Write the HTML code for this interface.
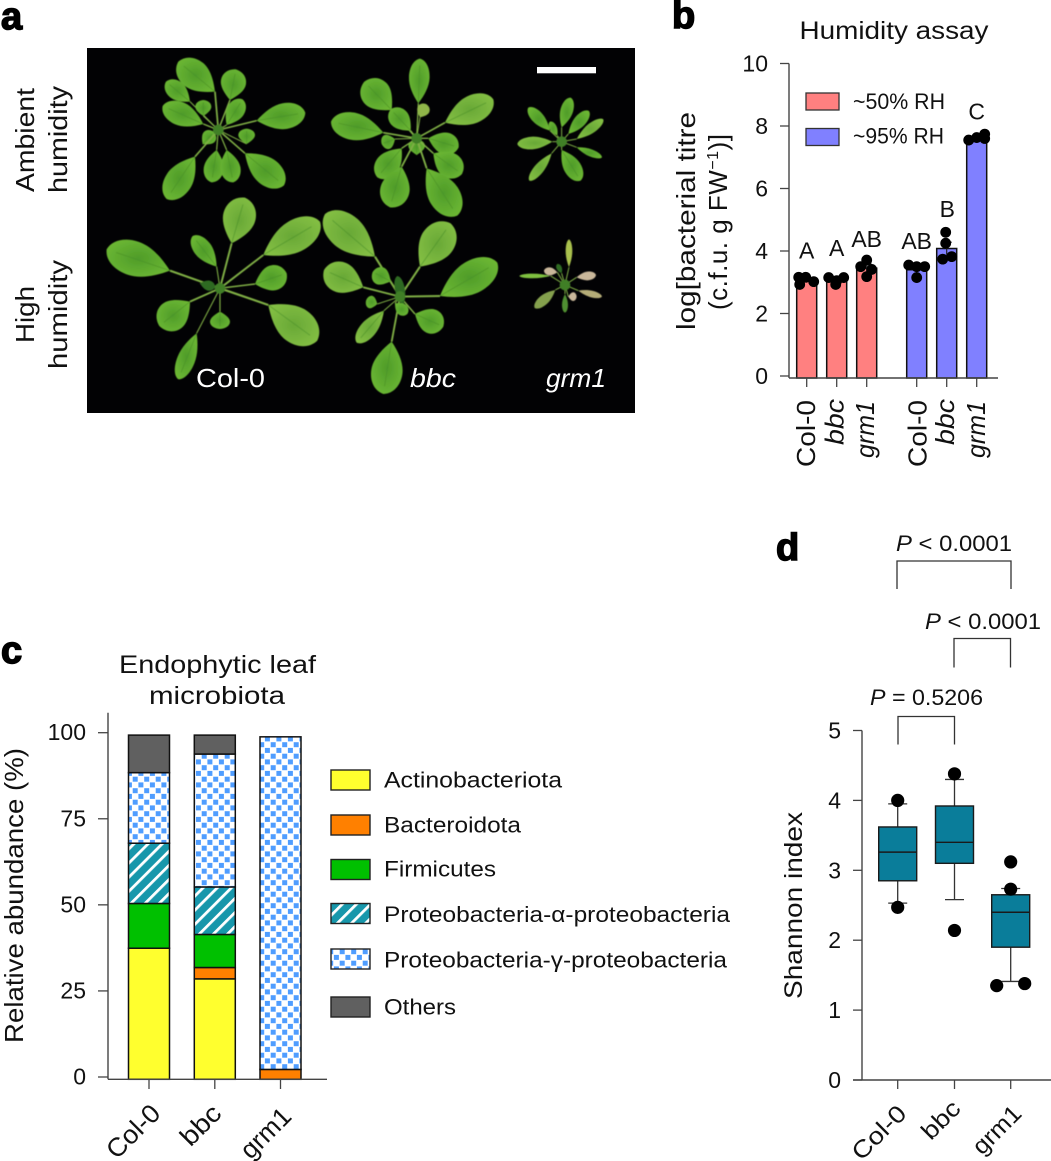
<!DOCTYPE html>
<html lang="en">
<head>
<meta charset="utf-8">
<title>Humidity and microbiota figure</title>
<style>
html,body{margin:0;padding:0;background:#fff;}
svg{display:block;font-family:"Liberation Sans",sans-serif;fill:#111;}
.plabel{font-weight:bold;font-size:38px;fill:#000;stroke:#000;stroke-width:1.5px;}
</style>
</head>
<body>
<svg id="fig" xmlns="http://www.w3.org/2000/svg" width="1051" height="1161" viewBox="0 0 1051 1161">
<defs>
<pattern id="pat-alpha" patternUnits="userSpaceOnUse" width="10" height="10" patternTransform="rotate(45)">
<rect width="10" height="10" fill="#1797ab"/><rect x="0" y="0" width="2.8" height="10" fill="#fff"/>
</pattern>
<pattern id="pat-gamma" patternUnits="userSpaceOnUse" width="11.5" height="11.5">
<rect width="11.5" height="11.5" fill="#fff"/><rect x="0.4" y="0.4" width="5" height="5" fill="#4f9dff"/><rect x="6.2" y="6.2" width="5" height="5" fill="#4f9dff"/>
</pattern>
<filter id="soft" x="-5%" y="-5%" width="110%" height="110%"><feGaussianBlur stdDeviation="1.4"/></filter>
<radialGradient id="leaf-green" cx="50%" cy="50%" r="60%"><stop offset="0" stop-color="#4f9c2a"/><stop offset="1" stop-color="#6db833"/></radialGradient>
<radialGradient id="leaf-light" cx="50%" cy="50%" r="60%"><stop offset="0" stop-color="#68a836"/><stop offset="1" stop-color="#84bf44"/></radialGradient>
</defs>

<g id="panel-a">
<text class="plabel" x="1" y="29">a</text>
<rect x="87" y="48" width="548" height="365" fill="#020204"/>
<g id="plants"></g>
<rect x="537" y="67" width="59" height="6.3" fill="#fff"/>
<text x="0" y="0" transform="translate(34,192) rotate(-90)" font-size="26" textLength="104" lengthAdjust="spacingAndGlyphs">Ambient</text>
<text x="0" y="0" transform="translate(67,193) rotate(-90)" font-size="26" textLength="107" lengthAdjust="spacingAndGlyphs">humidity</text>
<text x="0" y="0" transform="translate(34,343) rotate(-90)" font-size="26" textLength="57" lengthAdjust="spacingAndGlyphs">High</text>
<text x="0" y="0" transform="translate(67,369) rotate(-90)" font-size="26" textLength="109" lengthAdjust="spacingAndGlyphs">humidity</text>
<text x="196" y="387" font-size="26" style="fill:#fff" textLength="69" lengthAdjust="spacingAndGlyphs">Col-0</text>
<text x="410" y="387" font-size="26" font-style="italic" style="fill:#fff" textLength="46" lengthAdjust="spacingAndGlyphs">bbc</text>
<text x="546" y="387" font-size="26" font-style="italic" style="fill:#fff" textLength="60" lengthAdjust="spacingAndGlyphs">grm1</text>
</g>

<g id="panel-b">
<text class="plabel" x="672" y="28">b</text>
<text x="894" y="39" font-size="25" text-anchor="middle" textLength="189" lengthAdjust="spacingAndGlyphs">Humidity assay</text>
<text transform="translate(695,330) rotate(-90)" font-size="26" textLength="218" lengthAdjust="spacingAndGlyphs">log[bacterial titre</text>
<text transform="translate(727,310) rotate(-90)" font-size="26" letter-spacing="0.5">(c.f.u. g FW<tspan font-size="16" dy="-9">−1</tspan><tspan dy="9">)]</tspan></text>
<rect x="806" y="93" width="33" height="17" fill="#ff8080" stroke="#333" stroke-width="1.3"/>
<text x="853" y="109" font-size="22" textLength="92" lengthAdjust="spacingAndGlyphs">~50% RH</text>
<rect x="806" y="128.5" width="33" height="17" fill="#8080ff" stroke="#333" stroke-width="1.3"/>
<text x="853" y="143.5" font-size="22" textLength="91" lengthAdjust="spacingAndGlyphs">~95% RH</text>
</g>

<g id="panel-c">
<text class="plabel" x="1" y="663">c</text>
<text x="217.5" y="673" font-size="25" text-anchor="middle" textLength="197" lengthAdjust="spacingAndGlyphs">Endophytic leaf</text>
<text x="217" y="704" font-size="25" text-anchor="middle" textLength="136" lengthAdjust="spacingAndGlyphs">microbiota</text>
<text transform="translate(23,1043) rotate(-90)" font-size="26" textLength="295" lengthAdjust="spacingAndGlyphs">Relative abundance (%)</text>
</g>

<g id="panel-d">
<text class="plabel" x="776" y="560">d</text>
<text transform="translate(802,999) rotate(-90)" font-size="25" textLength="187" lengthAdjust="spacingAndGlyphs">Shannon index</text>
<text x="896" y="551" font-size="22" textLength="116" lengthAdjust="spacingAndGlyphs"><tspan font-style="italic">P</tspan> &lt; 0.0001</text>
<path d="M897 589V561H1011V589" fill="none" stroke="#333" stroke-width="1.3"/>
<text x="925" y="629" font-size="22" textLength="116" lengthAdjust="spacingAndGlyphs"><tspan font-style="italic">P</tspan> &lt; 0.0001</text>
<path d="M954 667.5V638.5H1010.5V667.5" fill="none" stroke="#333" stroke-width="1.3"/>
<text x="870" y="705" font-size="22" textLength="113" lengthAdjust="spacingAndGlyphs"><tspan font-style="italic">P</tspan> = 0.5206</text>
<path d="M898 744.5V716.5H954.5V744.5" fill="none" stroke="#333" stroke-width="1.3"/>
</g>
</svg>

<script>
/* ---------- Panel b data ---------- */
const humidityGenotypes = ['Col-0', 'bbc', 'grm1', 'Col-0', 'bbc', 'grm1'];
const humidityConditions = ['50', '50', '50', '95', '95', '95'];
const humidityMeans = [3.05, 3.05, 3.45, 3.4, 4.08, 7.55];
const humidityErrors = [0.06, 0.06, 0.13, 0.1, 0.2, 0.05];
const humidityPoints = [
  [3.16, 2.93, 3.16, 3.02],
  [3.15, 2.93, 3.15, 3.05],
  [3.71, 3.5, 3.41, 3.18],
  [3.55, 3.5, 3.5, 3.15],
  [4.6, 4.25, 3.74, 3.82],
  [7.55, 7.63, 7.74, 7.6]
];
const humidityLetters = ['A', 'A', 'AB', 'AB', 'B', 'C'];
const humidityTicks = [0, 2, 4, 6, 8, 10];

/* ---------- Panel c data ---------- */
const abundanceCategories = ['Col-0', 'bbc', 'grm1'];
const abundanceTaxa = ['Actinobacteriota', 'Bacteroidota', 'Firmicutes', 'Proteobacteria-α-proteobacteria', 'Proteobacteria-γ-proteobacteria', 'Others'];
const abundanceActino = [37.4, 28.5, 0];
const abundanceBactero = [0, 3.3, 2.2];
const abundanceFirmi = [13, 9.6, 0];
const abundanceAlpha = [17.5, 13.8, 0];
const abundanceGamma = [20.5, 38.6, 96.6];
const abundanceOthers = [10.9, 5.5, 0];
const abundanceTicks = [0, 25, 50, 75, 100];

/* ---------- Panel d data ---------- */
const shannonCategories = ['Col-0', 'bbc', 'grm1'];
const shannonQ1 = [2.85, 3.1, 1.9];
const shannonMedian = [3.26, 3.4, 2.4];
const shannonQ3 = [3.62, 3.92, 2.65];
const shannonWhiskerLow = [2.53, 2.58, 1.41];
const shannonWhiskerHigh = [3.95, 4.3, 2.74];
const shannonOutliers = [[4.0, 2.47], [4.38, 2.14], [3.12, 2.73, 1.35, 1.38]];
const shannonTicks = [0, 1, 2, 3, 4, 5];

const NS = 'http://www.w3.org/2000/svg';
const AXIS = '#444';
function mk(parent, tag, attrs) {
  const el = document.createElementNS(NS, tag);
  for (const k in attrs) el.setAttribute(k, attrs[k]);
  parent.appendChild(el);
  return el;
}

/* ---------- Panel b ---------- */
(function () {
  const g = document.getElementById('panel-b');
  const y = v => 376 - v * 31.25;
  const base = 378;
  const barX = [806.7, 836.7, 866.7, 916.7, 946.7, 976.7];
  const labelX = [815, 843.5, 874, 926.7, 954, 985];
  const labelLen = [67, 46, 57, 67, 46, 57];
  const letterX = [806.7, 836.7, 866.7, 916.7, 947.3, 976.7];
  const letterGap = [19, 21.6, 13.3, 16.3, 15.5, 14.7];
  const jitter = [[-8, -7, -1, 7], [-8, -1, 7, 0], [0, -6, 5, 0], [-8, 0, 8, 0], [-1, -1, -4, 5], [-8, 0, 8, 8]];
  const fills = { '50': '#ff8080', '95': '#8080ff' };

  humidityMeans.forEach((m, i) => {
    const bar = mk(g, 'rect', { x: barX[i] - 10, y: y(m), width: 20, height: base - y(m), fill: fills[humidityConditions[i]], stroke: '#111', 'stroke-width': 1.5 });
    
    
    const err = mk(g, 'path', { d: `M${barX[i]} ${y(m + humidityErrors[i])}V${y(m - humidityErrors[i])}M${barX[i] - 5} ${y(m + humidityErrors[i])}H${barX[i] + 5}`, stroke: '#222', 'stroke-width': 1.2, fill: 'none' });
    
    
    humidityPoints[i].forEach((p, j) => {
      const dot = mk(g, 'circle', { cx: barX[i] + jitter[i][j], cy: y(p), r: 5.4, fill: '#000' });
      
      
    });
    const tick = mk(g, 'line', { x1: barX[i], x2: barX[i], y1: base, y2: 387, stroke: AXIS, 'stroke-width': 1.3 });
    
    
    const lab = mk(g, 'text', { transform: `translate(${labelX[i]},${humidityGenotypes[i] === 'Col-0' ? 467 : humidityGenotypes[i] === 'bbc' ? 445 : 458}) rotate(-90)`, 'font-size': 26, textLength: labelLen[i], lengthAdjust: 'spacingAndGlyphs' });
    if (humidityGenotypes[i] !== 'Col-0') lab.setAttribute('font-style', 'italic');
    lab.textContent = humidityGenotypes[i];
    
    
    const top = Math.max.apply(null, humidityPoints[i].concat([m]));
    const letter = mk(g, 'text', { x: letterX[i], y: y(top) - letterGap[i], 'font-size': 23, 'text-anchor': 'middle' });
    letter.textContent = humidityLetters[i];
    
    
  });
  humidityTicks.forEach(t => {
    const tick = mk(g, 'line', { x1: 780, x2: 789, y1: y(t), y2: y(t), stroke: AXIS, 'stroke-width': 1.3 });
    
    
    const lab = mk(g, 'text', { x: 768, y: y(t) + 8, 'font-size': 23, 'text-anchor': 'end' });
    lab.textContent = t;
    
    
  });
  const ya = mk(g, 'line', { x1: 789, x2: 789, y1: y(10), y2: base, stroke: AXIS, 'stroke-width': 1.4 });
  
  
  const xa = mk(g, 'line', { x1: 789, x2: 998, y1: base, y2: base, stroke: AXIS, 'stroke-width': 1.4 });
  
  
})();

/* ---------- Panel c ---------- */
(function () {
  const g = document.getElementById('panel-c');
  const y = v => 1077 - v * 3.443;
  const base = 1079.3;
  const barX = [149, 214.8, 280.5];
  const fills = ['#ffff2e', '#ff8000', '#00c000', 'url(#pat-alpha)', 'url(#pat-gamma)', '#606060'];
  const series = [abundanceActino, abundanceBactero, abundanceFirmi, abundanceAlpha, abundanceGamma, abundanceOthers];
  const labelEnd = [[162, 1115], [223, 1115], [293, 1118]];
  const labelLen = [64, 46, 60];
  abundanceCategories.forEach((c, i) => {
    let acc = 0;
    series.forEach((s, k) => {
      if (s[i] <= 0) return;
      const top = y(acc + s[i]);
      const bot = acc === 0 ? base : y(acc);
      const seg = mk(g, 'rect', { x: barX[i] - 20.5, y: top, width: 41, height: bot - top, fill: fills[k], stroke: '#111', 'stroke-width': 1.5 });
      
      
      acc += s[i];
    });
    const tick = mk(g, 'line', { x1: barX[i], x2: barX[i], y1: base, y2: 1089, stroke: AXIS, 'stroke-width': 1.3 });
    
    
    const lab = mk(g, 'text', { transform: `translate(${labelEnd[i][0]},${labelEnd[i][1]}) rotate(-45)`, 'font-size': 26, 'text-anchor': 'end', textLength: labelLen[i], lengthAdjust: 'spacingAndGlyphs' });
    lab.textContent = c;
    
    
  });
  abundanceTicks.forEach(t => {
    const tick = mk(g, 'line', { x1: 98, x2: 108, y1: y(t), y2: y(t), stroke: AXIS, 'stroke-width': 1.3 });
    
    
    const lab = mk(g, 'text', { x: 86, y: y(t) + 7.5, 'font-size': 23, 'text-anchor': 'end' });
    lab.textContent = t;
    
    
  });
  const ya = mk(g, 'line', { x1: 108, x2: 108, y1: 712.7, y2: base, stroke: AXIS, 'stroke-width': 1.4 });
  
  
  const xa = mk(g, 'line', { x1: 108, x2: 327, y1: base, y2: base, stroke: AXIS, 'stroke-width': 1.4 });
  
  
  const swY = [770, 815, 859.5, 903.5, 949, 997];
  const txtY = [787.3, 832.7, 876.7, 922, 967.3, 1014.3];
  const txtLen = [178, 137, 112, 346, 343, 72];
  abundanceTaxa.forEach((t, k) => {
    const sw = mk(g, 'rect', { x: 331, y: swY[k], width: 39, height: 20, fill: fills[k], stroke: '#222', 'stroke-width': 1.4 });
    
    
    const lab = mk(g, 'text', { x: 384, y: txtY[k], 'font-size': 22, textLength: txtLen[k], lengthAdjust: 'spacingAndGlyphs' });
    lab.textContent = t;
    
    
  });
})();

/* ---------- Panel d ---------- */
(function () {
  const g = document.getElementById('panel-d');
  const y = v => 1080 - v * 69.9;
  const base = 1080;
  const boxX = [897.7, 954.5, 1010.7];
  const labelEnd = [[908, 1115], [962, 1110], [1023, 1115]];
  const labelLen = [66, 44, 58];
  const outJitter = [[0, 0], [0, 0], [0, 0, -14, 14]];
  shannonCategories.forEach((c, i) => {
    const x = boxX[i];
    const wh = mk(g, 'path', { d: `M${x - 9.5} ${y(shannonWhiskerHigh[i])}H${x + 9.5}M${x} ${y(shannonWhiskerHigh[i])}V${y(shannonWhiskerLow[i])}M${x - 9.5} ${y(shannonWhiskerLow[i])}H${x + 9.5}`, stroke: '#333', 'stroke-width': 1.3, fill: 'none' });
    
    
    const box = mk(g, 'rect', { x: x - 19, y: y(shannonQ3[i]), width: 38, height: y(shannonQ1[i]) - y(shannonQ3[i]), fill: '#0a7d9a', stroke: '#1a1a1a', 'stroke-width': 1.4 });
    
    
    const med = mk(g, 'line', { x1: x - 19, x2: x + 19, y1: y(shannonMedian[i]), y2: y(shannonMedian[i]), stroke: '#1a1a1a', 'stroke-width': 1.4 });
    
    
    shannonOutliers[i].forEach((o, j) => {
      const dot = mk(g, 'circle', { cx: x + outJitter[i][j], cy: y(o), r: 6.6, fill: '#000' });
      
      
    });
    const tick = mk(g, 'line', { x1: x, x2: x, y1: base, y2: 1089, stroke: AXIS, 'stroke-width': 1.3 });
    
    
    const lab = mk(g, 'text', { transform: `translate(${labelEnd[i][0]},${labelEnd[i][1]}) rotate(-45)`, 'font-size': 24, 'text-anchor': 'end', textLength: labelLen[i], lengthAdjust: 'spacingAndGlyphs' });
    lab.textContent = c;
    
    
  });
  shannonTicks.forEach(t => {
    const tick = mk(g, 'line', { x1: 853, x2: 862, y1: y(t), y2: y(t), stroke: AXIS, 'stroke-width': 1.3 });
    
    
    const lab = mk(g, 'text', { x: 841, y: y(t) + 8, 'font-size': 23, 'text-anchor': 'end' });
    lab.textContent = t;
    
    
  });
  const ya = mk(g, 'line', { x1: 862, x2: 862, y1: y(5), y2: base, stroke: AXIS, 'stroke-width': 1.4 });
  
  
  const xa = mk(g, 'line', { x1: 853, x2: 1051, y1: base, y2: base, stroke: AXIS, 'stroke-width': 1.4 });
  
  
})();

/* ---------- Panel a: illustrated plant photo ---------- */
(function () {
  const root = document.getElementById('plants');
  const G = 'url(#leaf-green)', L = 'url(#leaf-light)', Y = '#8fb54a', T = '#c9b79a', D = '#2f6b22', P = '#7fae45';
  const rosettes = [
    { n: 'col-0-ambient', tr: 'scale(0.3333)', c: [655, 390], leaves: [
      [645,275,535,185,88,G],[690,300,708,208,76,G],[680,375,728,298,54,G],[610,372,488,318,70,G],[570,305,498,245,56,G],
      [610,348,610,300,48,G],[770,362,916,338,78,G],[740,432,740,386,50,G],[608,432,642,396,44,G],
      [650,450,635,547,60,G],[680,450,700,547,60,G],[735,460,852,556,82,G],[585,470,500,597,82,G]] },
    { n: 'col-0-high', tr: 'scale(0.3333)', c: [660, 865], leaves: [
      [695,730,735,593,98,L],[790,765,960,665,96,L],[650,800,578,708,54,G],[510,812,320,748,104,G],
      [765,852,860,820,76,G],[805,915,952,1022,108,L],[570,905,478,978,92,G],[660,935,660,987,60,G],
      [590,1000,535,1138,54,G],[600,850,645,862,30,D]] },
    { n: 'bbc-ambient', tr: 'translate(320,40) scale(0.3333)', c: [290, 295], leaves: [
      [295,190,300,56,62,G],[215,210,133,125,90,G],[272,272,212,208,60,G],[190,278,33,245,82,G],
      [375,248,520,178,84,L],[300,232,318,192,38,Y],[225,297,185,312,44,G],[290,345,290,298,50,G],
      [325,295,416,322,66,G],[340,340,426,402,76,G],[245,325,172,412,72,G],[245,380,210,502,88,G],[320,385,412,527,94,G]] },
    { n: 'bbc-high', tr: 'translate(320,40) scale(0.3333)', c: [240, 770], leaves: [
      [165,650,15,522,104,L],[300,680,392,550,104,L],[130,742,12,690,92,L],[212,724,158,696,54,G],
      [360,768,532,668,98,G],[285,822,370,860,74,G],[192,812,110,908,50,L],[172,792,138,782,38,G],
      [215,905,190,1062,94,G],[250,800,232,708,30,D],[225,790,262,822,36,G]] },
    { n: 'grm1-ambient', tr: 'translate(320,40) scale(0.3333)', c: [725, 305], leaves: [
      [690,272,625,203,36,G],[725,262,752,173,38,G],[745,282,807,213,36,G],[770,297,850,238,30,L],
      [697,305,592,312,38,L],[770,322,846,352,22,G],[695,340,628,422,30,L],[725,330,782,422,52,G],[712,287,690,245,22,G]] },
    { n: 'grm1-high', tr: 'translate(320,40) scale(0.3333)', c: [735, 735], leaves: [
      [747,682,747,598,20,'#a9c04e'],[692,708,598,708,14,'#7fc040'],[712,697,672,692,24,T],[770,712,828,705,26,T],
      [775,752,846,770,20,'#b5ad78'],[706,750,644,804,30,'#84a04e'],[735,762,735,818,18,'#4f8f30'],[745,770,770,770,26,T],[725,700,712,672,16,D]] }
  ];
  rosettes.forEach(r => {
    const grp = mk(root, 'g', { transform: r.tr, filter: 'url(#soft)' });
    
    
    r.leaves.forEach(l => {
      const bx = l[0], by = l[1], tx = l[2], ty = l[3], w = l[4], col = l[5];
      const dx = tx - bx, dy = ty - by, len = Math.hypot(dx, dy) || 1;
      const nx = -dy / len * w, ny = dx / len * w;
      const pet = mk(grp, 'line', { x1: r.c[0], y1: r.c[1], x2: bx, y2: by, stroke: P, 'stroke-width': Math.max(3, w * 0.06) });
      
      
      const side = s => {
        const mx = bx + dx * 0.58 + s * nx * 0.5, my = by + dy * 0.58 + s * ny * 0.5;
        return {
          mx: mx, my: my,
          a: [bx + dx * 0.18 + s * nx * 0.28, by + dy * 0.18 + s * ny * 0.28],
          b: [mx - dx * 0.2, my - dy * 0.2],
          c: [mx + dx * 0.22, my + dy * 0.22],
          d: [tx + s * nx * 0.3 - dx * 0.03, ty + s * ny * 0.3 - dy * 0.03]
        };
      };
      const A = side(1), B = side(-1);
      const leaf = mk(grp, 'path', { d: `M${bx} ${by}C${A.a} ${A.b} ${A.mx} ${A.my}C${A.c} ${A.d} ${tx} ${ty}C${B.d} ${B.c} ${B.mx} ${B.my}C${B.b} ${B.a} ${bx} ${by}Z`, fill: col });
      
      
      if (w > 40) {
        const rib = mk(grp, 'line', { x1: bx, y1: by, x2: bx + dx * 0.85, y2: by + dy * 0.85, stroke: '#4a8f28', 'stroke-width': 3, 'stroke-opacity': 0.6 });
        
        
      }
    });
    const hub = mk(grp, 'circle', { cx: r.c[0], cy: r.c[1], r: 16, fill: '#3f7f28' });
    
    
  });
})();
</script>
</body>
</html>
